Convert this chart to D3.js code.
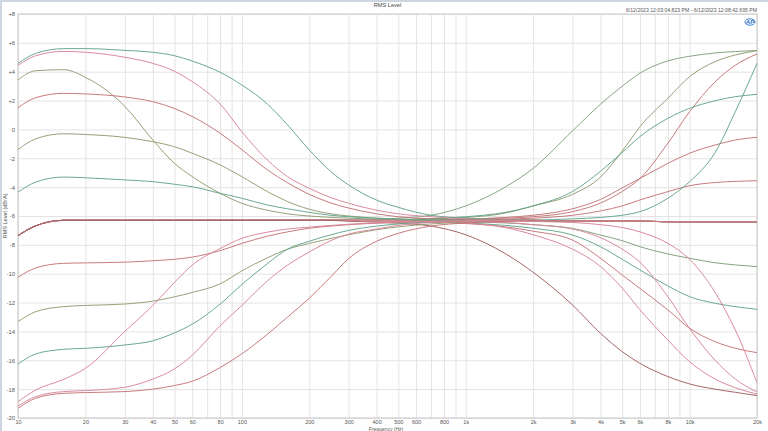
<!DOCTYPE html>
<html><head><meta charset="utf-8">
<script src="https://cdn.jsdelivr.net/npm/d3@7"></script>
<style>
html,body{margin:0;padding:0;background:#fff;}
svg{display:block;font-family:"Liberation Sans",Arial,sans-serif;}
</style></head>
<body>
<svg id="chart" width="768" height="431"></svg>
<script>
// ---------------- DATA ----------------
const freqs = [10,12,16,20,30,40,50,60,80,100,130,160,200,250,300,400,500,700,1000,1500,2000,3000,4000,5000,6000,8000,10000,13000,16000,20000];

// low-shelf boosts
const lsA = [4.58,5.27,5.6,5.6,5.48,5.35,5.11,4.74,3.96,3.08,1.76,0.31,-1.42,-2.93,-3.85,-4.9,-5.4,-5.95,-6.15,-6.25,-6.3,-6.35,-6.35,-6.35,-6.35,-6.4,-6.4,-6.4,-6.4,-6.4];
const lsB = [4.44,5.11,5.41,5.35,5.0,4.58,4.03,3.31,1.76,-0.16,-2.12,-3.27,-4.08,-4.73,-5.12,-5.6,-5.85,-6.05,-6.2,-6.28,-6.3,-6.35,-6.35,-6.35,-6.35,-6.4,-6.4,-6.4,-6.4,-6.4];
const lsC = [3.43,4.07,4.14,3.61,1.6,-0.73,-2.35,-3.27,-4.43,-5.12,-5.6,-5.85,-6.0,-6.1,-6.15,-6.22,-6.26,-6.3,-6.3,-6.3,-6.3,-6.35,-6.35,-6.35,-6.35,-6.4,-6.4,-6.4,-6.4,-6.4];
const lsD = [1.51,2.2,2.5,2.46,2.25,1.92,1.45,0.9,-0.27,-1.4,-2.8,-3.7,-4.5,-5.1,-5.45,-5.85,-6.05,-6.2,-6.27,-6.3,-6.3,-6.35,-6.35,-6.35,-6.35,-6.4,-6.4,-6.4,-6.4,-6.4];
const lsE = [-1.4,-0.65,-0.3,-0.35,-0.55,-0.85,-1.2,-1.65,-2.46,-3.27,-4.31,-5.0,-5.53,-5.85,-6.0,-6.15,-6.22,-6.28,-6.3,-6.3,-6.3,-6.35,-6.35,-6.35,-6.35,-6.4,-6.4,-6.4,-6.4,-6.4];
const lsF = [-4.35,-3.65,-3.3,-3.35,-3.5,-3.62,-3.8,-3.97,-4.43,-4.77,-5.24,-5.5,-5.75,-5.95,-6.05,-6.15,-6.22,-6.27,-6.3,-6.3,-6.3,-6.35,-6.35,-6.35,-6.35,-6.4,-6.4,-6.4,-6.4,-6.4];
// low-shelf cuts
const lcG = [-10.25,-9.6,-9.28,-9.25,-9.2,-9.1,-9.0,-8.85,-8.4,-7.9,-7.4,-7.1,-6.85,-6.7,-6.6,-6.5,-6.45,-6.38,-6.33,-6.3,-6.3,-6.35,-6.35,-6.35,-6.35,-6.4,-6.4,-6.4,-6.4,-6.4];
const lcH = [-13.32,-12.63,-12.28,-12.2,-12.1,-11.9,-11.6,-11.3,-10.7,-9.8,-8.9,-8.3,-7.9,-7.55,-7.3,-6.95,-6.75,-6.55,-6.42,-6.35,-6.32,-6.35,-6.35,-6.35,-6.35,-6.4,-6.4,-6.4,-6.4,-6.4];
const lcI = [-16.26,-15.56,-15.24,-15.17,-14.94,-14.65,-14.1,-13.5,-12.1,-10.75,-9.3,-8.3,-7.75,-7.3,-7.0,-6.7,-6.55,-6.42,-6.35,-6.32,-6.3,-6.35,-6.35,-6.35,-6.35,-6.4,-6.4,-6.4,-6.4,-6.4];
const lcJ = [-18.87,-18.06,-17.32,-16.56,-14.0,-12.2,-10.6,-9.4,-8.25,-7.55,-7.12,-6.9,-6.77,-6.65,-6.57,-6.47,-6.42,-6.37,-6.33,-6.3,-6.3,-6.35,-6.35,-6.35,-6.35,-6.4,-6.4,-6.4,-6.4,-6.4];
const lcK = [-19.17,-18.52,-18.17,-18.1,-17.87,-17.3,-16.6,-15.65,-13.6,-12.2,-10.5,-9.4,-8.5,-7.7,-7.25,-6.9,-6.65,-6.45,-6.37,-6.32,-6.3,-6.35,-6.35,-6.35,-6.35,-6.4,-6.4,-6.4,-6.4,-6.4];
const lcL = [-19.33,-18.63,-18.29,-18.24,-18.17,-18.0,-17.75,-17.45,-16.5,-15.55,-14.2,-13.0,-11.7,-10.2,-8.95,-7.75,-7.2,-6.7,-6.48,-6.37,-6.33,-6.35,-6.35,-6.35,-6.35,-6.4,-6.4,-6.4,-6.4,-6.4];
// high-shelf boosts
const hsA = [-7.36,-6.68,-6.3,-6.3,-6.3,-6.3,-6.3,-6.3,-6.3,-6.3,-6.3,-6.3,-6.3,-6.3,-6.3,-6.25,-6.15,-5.95,-5.3,-4.0,-2.7,-0.1,1.75,3.0,3.9,4.75,5.07,5.3,5.4,5.47];
const hsB = [-7.36,-6.68,-6.3,-6.3,-6.3,-6.3,-6.3,-6.3,-6.3,-6.3,-6.3,-6.3,-6.3,-6.3,-6.3,-6.3,-6.27,-6.2,-6.1,-5.8,-5.3,-4.5,-3.3,-1.5,0.19,2.16,3.66,4.7,5.16,5.46];
const hsC = [-7.36,-6.68,-6.3,-6.3,-6.3,-6.3,-6.3,-6.3,-6.3,-6.3,-6.3,-6.3,-6.3,-6.3,-6.3,-6.3,-6.3,-6.28,-6.22,-6.15,-6.05,-5.7,-5.1,-4.3,-3.4,-0.95,1.23,3.3,4.45,5.23];
const hsD = [-7.36,-6.68,-6.3,-6.3,-6.3,-6.3,-6.3,-6.3,-6.3,-6.3,-6.3,-6.3,-6.3,-6.3,-6.3,-6.3,-6.25,-6.18,-6.05,-5.75,-5.3,-4.3,-2.9,-1.6,-0.5,0.77,1.46,1.99,2.27,2.43];
const hsE = [-7.36,-6.68,-6.3,-6.3,-6.3,-6.3,-6.3,-6.3,-6.3,-6.3,-6.3,-6.3,-6.3,-6.3,-6.3,-6.3,-6.3,-6.27,-6.22,-6.1,-5.95,-5.5,-4.85,-4.05,-3.4,-2.35,-1.65,-1.08,-0.73,-0.55];
const hsF = [-7.36,-6.68,-6.3,-6.3,-6.3,-6.3,-6.3,-6.3,-6.3,-6.3,-6.3,-6.3,-6.3,-6.3,-6.3,-6.3,-6.3,-6.3,-6.3,-6.22,-6.15,-5.95,-5.65,-5.3,-4.89,-4.31,-3.9,-3.68,-3.6,-3.55];
const hsG = [-7.36,-6.68,-6.3,-6.3,-6.3,-6.3,-6.3,-6.3,-6.3,-6.3,-6.3,-6.3,-6.3,-6.3,-6.3,-6.3,-6.3,-6.3,-6.3,-6.3,-6.28,-6.2,-6.1,-5.95,-5.7,-4.77,-3.62,-1.6,1.23,4.58];
// high-shelf cuts
const hcF = [-7.36,-6.68,-6.3,-6.3,-6.3,-6.3,-6.3,-6.3,-6.3,-6.3,-6.3,-6.3,-6.3,-6.3,-6.3,-6.32,-6.33,-6.35,-6.4,-6.48,-6.6,-6.86,-7.32,-7.71,-8.13,-8.63,-8.93,-9.24,-9.39,-9.51];
const hcE = [-7.36,-6.68,-6.3,-6.3,-6.3,-6.3,-6.3,-6.3,-6.3,-6.3,-6.3,-6.3,-6.3,-6.3,-6.3,-6.32,-6.35,-6.4,-6.48,-6.65,-6.85,-7.32,-8.13,-9.0,-9.74,-10.85,-11.59,-12.05,-12.28,-12.47];
const hcD = [-7.36,-6.68,-6.3,-6.3,-6.3,-6.3,-6.3,-6.3,-6.3,-6.3,-6.3,-6.3,-6.3,-6.3,-6.3,-6.33,-6.36,-6.42,-6.52,-6.75,-7.05,-7.67,-8.93,-10.09,-11.02,-12.51,-13.78,-14.71,-15.17,-15.47];
const hcC = [-7.36,-6.68,-6.3,-6.3,-6.3,-6.3,-6.3,-6.3,-6.3,-6.3,-6.3,-6.3,-6.3,-6.3,-6.3,-6.3,-6.32,-6.35,-6.4,-6.45,-6.6,-6.9,-7.5,-8.3,-9.2,-11.6,-13.8,-16.0,-17.3,-18.2];
const hcG = [-7.36,-6.68,-6.3,-6.3,-6.3,-6.3,-6.3,-6.3,-6.3,-6.3,-6.3,-6.3,-6.3,-6.3,-6.3,-6.3,-6.3,-6.3,-6.3,-6.33,-6.38,-6.45,-6.6,-6.8,-7.1,-7.9,-9.0,-11.3,-13.9,-17.55];
const hcB = [-7.36,-6.68,-6.3,-6.3,-6.3,-6.3,-6.3,-6.3,-6.3,-6.3,-6.3,-6.3,-6.3,-6.3,-6.3,-6.35,-6.38,-6.42,-6.5,-6.8,-7.3,-8.3,-9.5,-11.0,-12.5,-14.6,-16.1,-17.3,-17.9,-18.35];
const hcA = [-7.36,-6.68,-6.3,-6.3,-6.3,-6.3,-6.3,-6.3,-6.3,-6.3,-6.3,-6.3,-6.3,-6.3,-6.37,-6.42,-6.5,-6.7,-7.3,-8.6,-9.9,-12.17,-14.13,-15.4,-16.21,-17.13,-17.64,-18.0,-18.22,-18.45];

const seriesList = [
  {v: hsA, c: "olivegreen"}, {v: hsB, c: "olive"}, {v: hsC, c: "red"}, {v: hsD, c: "green"},
  {v: hsE, c: "red"}, {v: hsF, c: "red"}, {v: hsG, c: "green"},
  {v: hcF, c: "olivegreen"}, {v: hcE, c: "green"}, {v: hcD, c: "red"}, {v: hcC, c: "pink"},
  {v: hcG, c: "pink"}, {v: hcB, c: "pink"}, {v: hcA, c: "dark"},
  {v: lsA, c: "green"}, {v: lsB, c: "pink"}, {v: lsC, c: "olive"}, {v: lsD, c: "red"},
  {v: lsE, c: "olive"}, {v: lsF, c: "green"},
  {v: lcG, c: "red"}, {v: lcH, c: "olive"}, {v: lcI, c: "green"}, {v: lcJ, c: "pink"},
  {v: lcK, c: "pink"}, {v: lcL, c: "red"}
];

const xTickVals = [10,20,30,40,50,60,80,100,200,300,400,500,600,800,1000,2000,3000,4000,5000,6000,8000,10000,20000];
const xTickLabels = ["10","20","30","40","50","60","80","100","200","300","400","500","600","800","1k","2k","3k","4k","5k","6k","8k","10k","20k"];
const xGridVals = [10,20,30,40,50,60,70,80,90,100,200,300,400,500,600,700,800,900,1000,2000,3000,4000,5000,6000,7000,8000,9000,10000,20000];
const yTickVals = [8,6,4,2,0,-2,-4,-6,-8,-10,-12,-14,-16,-18,-20];
const yTickLabels = ["+8","+6","+4","+2","0","-2","-4","-6","-8","-10","-12","-14","-16","-18","-20"];

const titleText = "RMS Level";
const stampText = "6/12/2023 12:03:04.823 PM - 6/12/2023 12:08:42.695 PM";
const xLabel = "Frequency (Hz)";
const yLabel = "RMS Level (dBrA)";

// ---------------- DRAW ----------------
const palette = {green:"#62a48b", olivegreen:"#80a07c", olive:"#919c70", red:"#c47476", pink:"#d88599", dark:"#a35e5e"};
const svg = d3.select("#chart");
const L = 18, R = 757, T = 14, B = 418;
const x = d3.scaleLog().domain([10,20000]).range([L,R]);
const y = d3.scaleLinear().domain([-20,8]).range([B,T]);

// window frame
svg.append("rect").attr("x",0).attr("y",0).attr("width",768).attr("height",431).attr("fill","#fff");
svg.append("rect").attr("x",0).attr("y",0).attr("width",768).attr("height",2).attr("fill","#cdd6e0");
svg.append("rect").attr("x",0).attr("y",0).attr("width",2).attr("height",431).attr("fill","#cdd6e0");

// grid
const gx = svg.append("g").attr("transform",`translate(0,${B})`)
  .call(d3.axisBottom(x).tickValues(xGridVals).tickSize(-(B-T)).tickFormat(""));
gx.select(".domain").remove();
gx.selectAll("line").attr("stroke","#e4e4e4").attr("stroke-width",1);
const gy = svg.append("g").attr("transform",`translate(${L},0)`)
  .call(d3.axisLeft(y).tickValues(yTickVals).tickSize(-(R-L)).tickFormat(""));
gy.select(".domain").remove();
gy.selectAll("line").attr("stroke","#e4e4e4").attr("stroke-width",1);

// plot frame
svg.append("rect").attr("x",L).attr("y",T).attr("width",R-L).attr("height",B-T)
  .attr("fill","none").attr("stroke","#cfcfcf").attr("stroke-width",1.2);

// tick labels via axes
const ax = svg.append("g").attr("transform",`translate(0,${B})`)
  .call(d3.axisBottom(x).tickValues(xTickVals).tickSize(0).tickPadding(2.5)
    .tickFormat((d,i)=>xTickLabels[i]));
ax.select(".domain").remove();
ax.selectAll("text").attr("font-size",5.5).attr("fill","#555").attr("font-family","Liberation Sans, Arial, sans-serif");
const ay = svg.append("g").attr("transform",`translate(${L},0)`)
  .call(d3.axisLeft(y).tickValues(yTickVals).tickSize(0).tickPadding(3)
    .tickFormat((d,i)=>yTickLabels[i]));
ay.select(".domain").remove();
ay.selectAll("text").attr("font-size",5.8).attr("fill","#555").attr("font-family","Liberation Sans, Arial, sans-serif");

// curves
const line = d3.line().x((d,i)=>x(freqs[i])).y(d=>y(d)).curve(d3.curveMonotoneX);
svg.append("clipPath").attr("id","pc").append("rect")
  .attr("x",L).attr("y",T).attr("width",R-L).attr("height",B-T);
const lg = svg.append("g").attr("clip-path","url(#pc)");
seriesList.forEach(s=>{
  lg.append("path").attr("d",line(s.v)).attr("fill","none")
    .attr("stroke",palette[s.c]).attr("stroke-width",1).attr("stroke-opacity",0.95);
});

// texts
svg.append("text").attr("x",(L+R)/2).attr("y",6.5).attr("text-anchor","middle")
  .attr("font-size",5.6).attr("fill","#444").text(titleText);
svg.append("text").attr("x",R).attr("y",11.5).attr("text-anchor","end")
  .attr("font-size",5.4).attr("fill","#555").attr("textLength",131).attr("lengthAdjust","spacingAndGlyphs").text(stampText);
svg.append("text").attr("x",386).attr("y",431).attr("text-anchor","middle")
  .attr("font-size",5).attr("fill","#555").text(xLabel);
svg.append("text").attr("transform","translate(7,216) rotate(-90)").attr("text-anchor","middle")
  .attr("font-size",5.6).attr("fill","#555").text(yLabel);

// AP logo
const logo = svg.append("g").attr("transform","translate(750,22)");
logo.append("ellipse").attr("rx",5).attr("ry",3.2).attr("fill","none").attr("stroke","#3b82d6").attr("stroke-width",1);
logo.append("text").attr("x",0).attr("y",2.2).attr("text-anchor","middle").attr("font-size",6)
  .attr("font-weight","bold").attr("font-style","italic").attr("fill","#2f6fc4").text("AP");
</script>
</body></html>
